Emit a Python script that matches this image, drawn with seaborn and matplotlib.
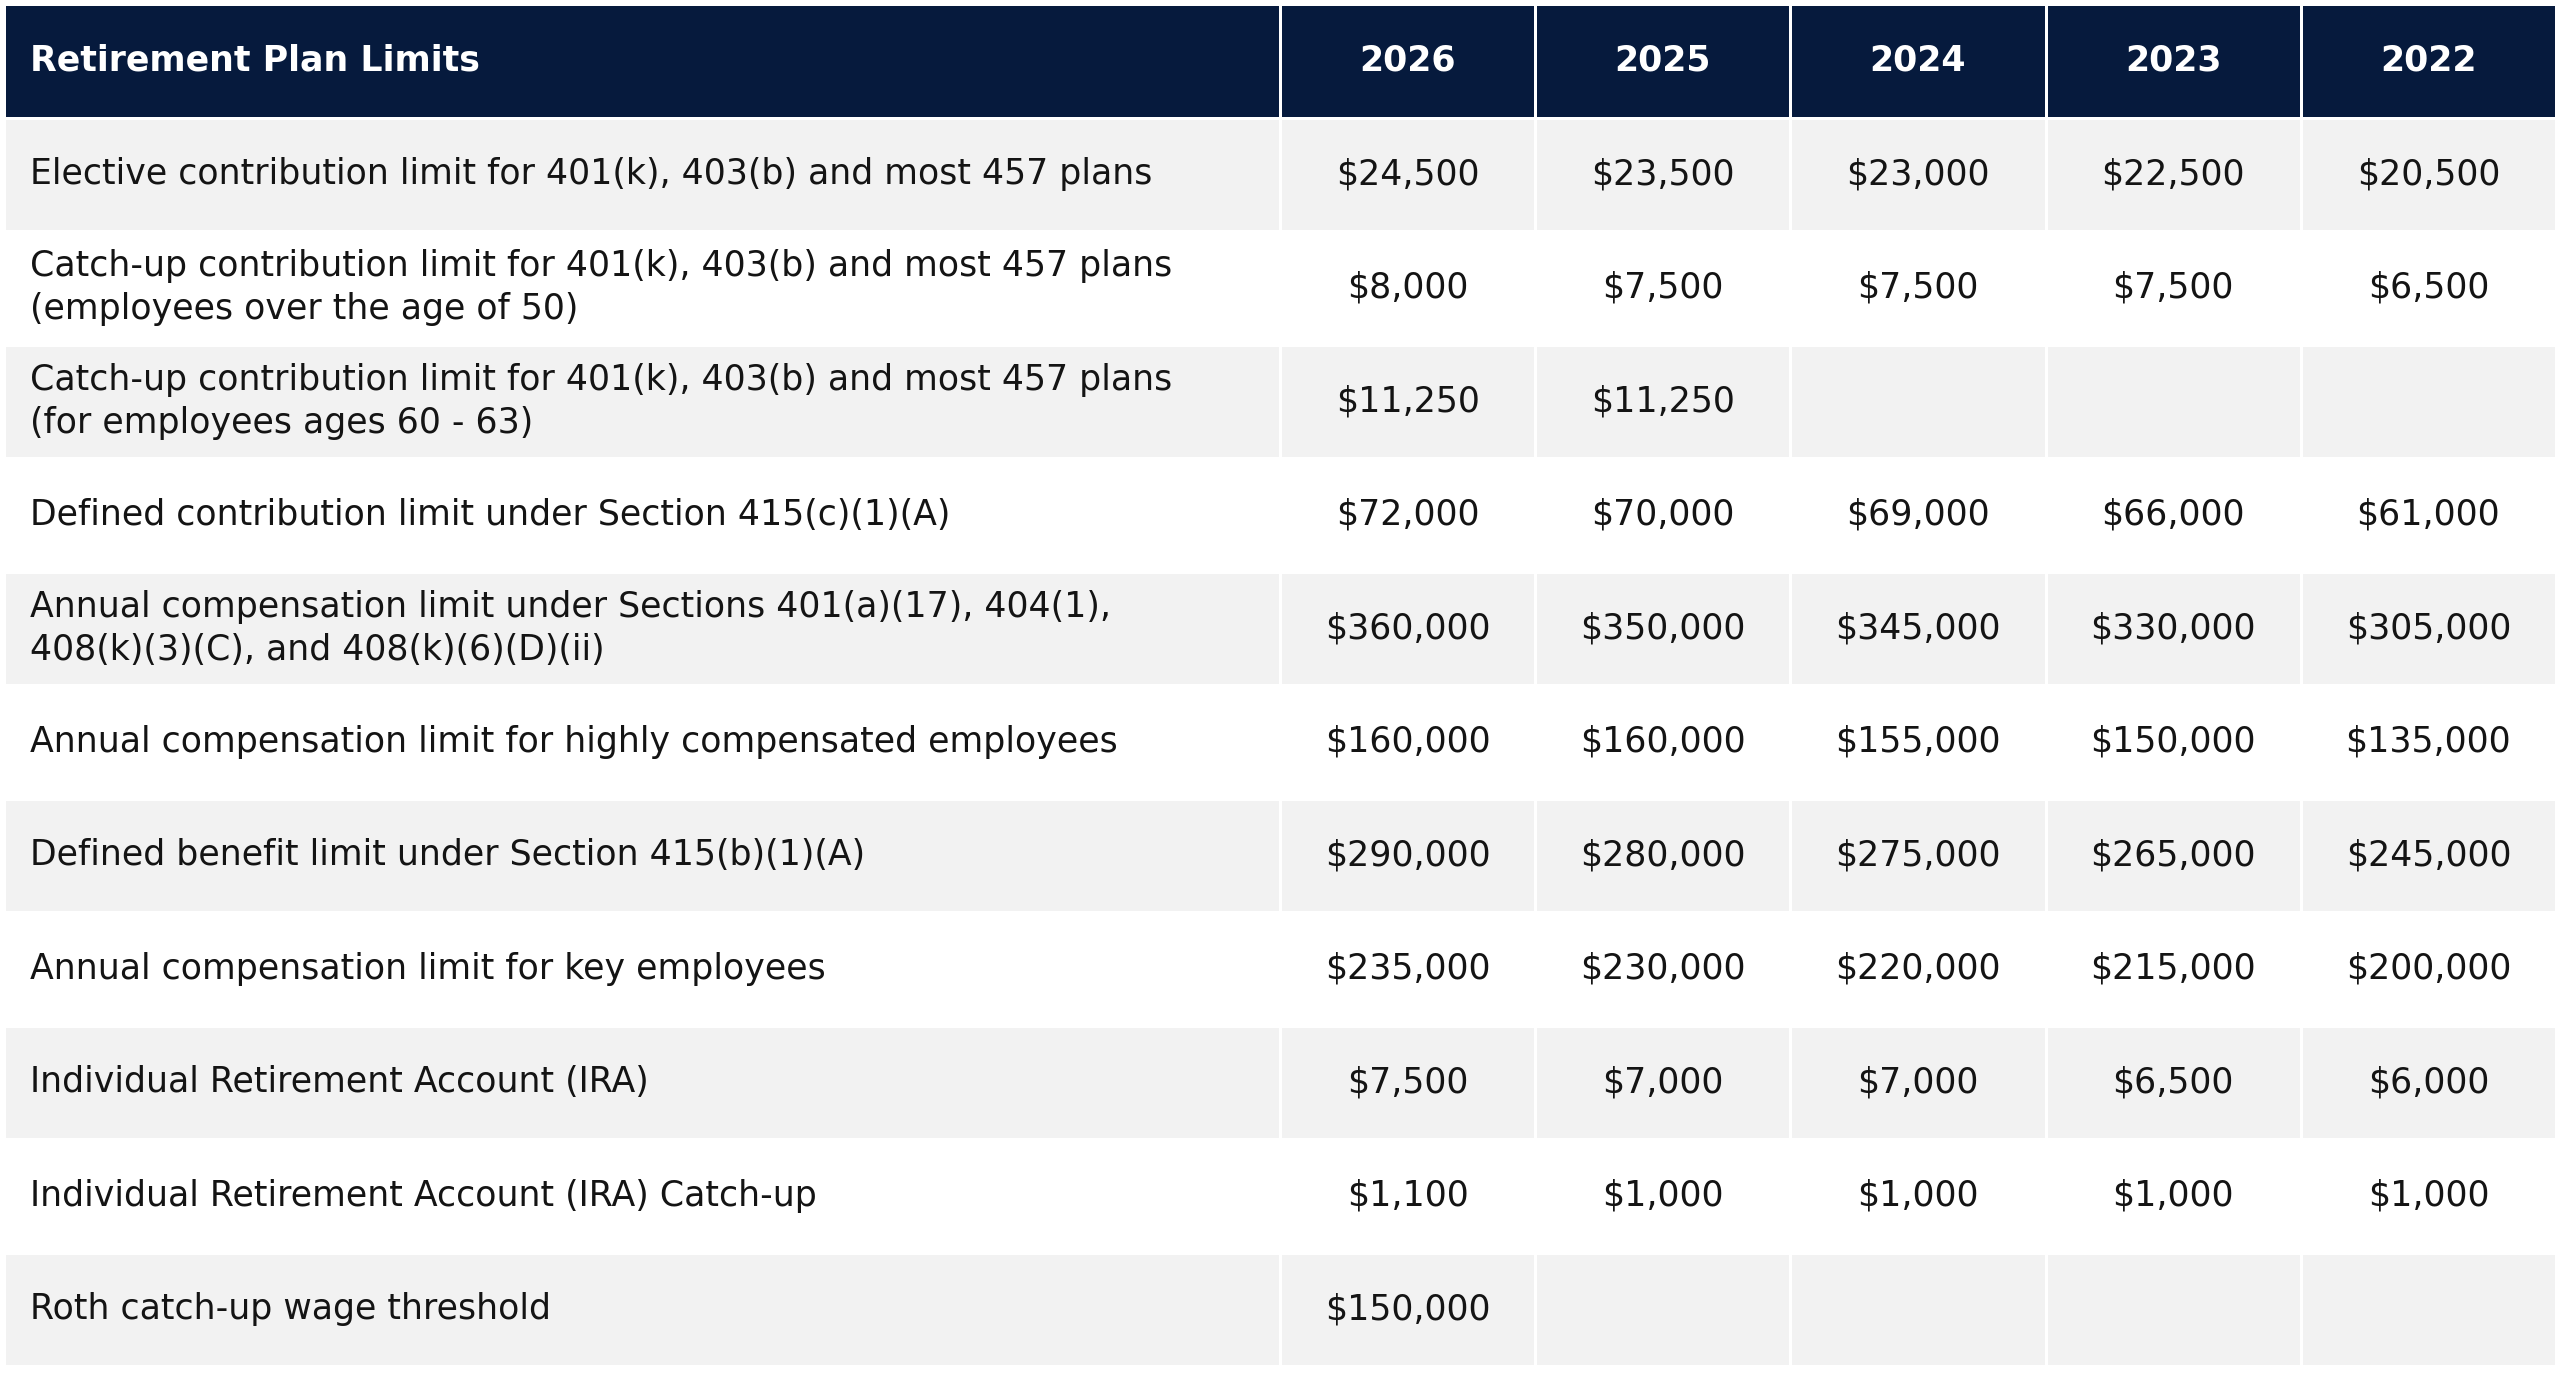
import matplotlib
matplotlib.use("Agg")
import numpy as np
import pandas as pd
import matplotlib.pyplot as plt
import seaborn as sns
from matplotlib.colors import ListedColormap

# -------------------------
# DATA
# -------------------------
title = "Retirement Plan Limits"
years = ["2026", "2025", "2024", "2023", "2022"]
labels = [
    "Elective contribution limit for 401(k), 403(b) and most 457 plans",
    "Catch-up contribution limit for 401(k), 403(b) and most 457 plans\n(employees over the age of 50)",
    "Catch-up contribution limit for 401(k), 403(b) and most 457 plans\n(for employees ages 60 - 63)",
    "Defined contribution limit under Section 415(c)(1)(A)",
    "Annual compensation limit under Sections 401(a)(17), 404(1),\n408(k)(3)(C), and 408(k)(6)(D)(ii)",
    "Annual compensation limit for highly compensated employees",
    "Defined benefit limit under Section 415(b)(1)(A)",
    "Annual compensation limit for key employees",
    "Individual Retirement Account (IRA)",
    "Individual Retirement Account (IRA) Catch-up",
    "Roth catch-up wage threshold",
]
limits_2026 = [24500, 8000, 11250, 72000, 360000, 160000, 290000, 235000, 7500, 1100, 150000]
limits_2025 = [23500, 7500, 11250, 70000, 350000, 160000, 280000, 230000, 7000, 1000, None]
limits_2024 = [23000, 7500, None, 69000, 345000, 155000, 275000, 220000, 7000, 1000, None]
limits_2023 = [22500, 7500, None, 66000, 330000, 150000, 265000, 215000, 6500, 1000, None]
limits_2022 = [20500, 6500, None, 61000, 305000, 135000, 245000, 200000, 6000, 1000, None]

df = pd.DataFrame(
    {"2026": limits_2026, "2025": limits_2025, "2024": limits_2024,
     "2023": limits_2023, "2022": limits_2022},
    index=labels,
)[years]

# -------------------------
# STYLE
# -------------------------
sns.set_theme(style="white")
plt.rcParams["font.family"] = ["DejaVu Sans"]

NAVY = "#061a3d"
GRAY = "#f2f2f2"
TEXT = "#141414"
cmap = ListedColormap(["white", GRAY, NAVY])

# 2 = header, 1 = shaded row, 0 = plain row
shade = np.array([2] + [1 if i % 2 == 0 else 0 for i in range(len(labels))])

fmt_cells = df.apply(lambda col: col.map(lambda v: "" if pd.isna(v) else f"${int(v):,}"))
annot_vals = np.vstack([np.array(years)[None, :], fmt_cells.values])

W, H = 2560, 1373
fig = plt.figure(figsize=(W / 100, H / 100), dpi=100)
left, right, top, bottom = 4 / W, 2556 / W, 1 - 4 / H, 1 - 1366 / H
half = (right - left) / 2
ax_l = fig.add_axes([left, bottom, half, top - bottom])
ax_v = fig.add_axes([left + half, bottom, half, top - bottom])

lw = 3 * 72 / 100
FS = 25

sns.heatmap(shade[:, None], ax=ax_l, cmap=cmap, vmin=0, vmax=2, cbar=False,
            linewidths=lw, linecolor="white", xticklabels=False, yticklabels=False)
sns.heatmap(np.repeat(shade[:, None], len(years), axis=1), ax=ax_v, cmap=cmap,
            vmin=0, vmax=2, cbar=False, linewidths=lw, linecolor="white",
            annot=annot_vals, fmt="", xticklabels=False, yticklabels=False,
            annot_kws={"fontsize": FS})

for t in ax_v.texts:
    if t.get_text() in years:
        t.set_color("white")
        t.set_fontweight("bold")
    else:
        t.set_color(TEXT)

ax_l.text(0.02, 0.5, title, color="white", fontweight="bold", fontsize=FS,
          ha="left", va="center")
for i, lab in enumerate(labels):
    ax_l.text(0.02, i + 1.5, lab, color=TEXT, fontsize=FS, ha="left",
              va="center", linespacing=1.35)

fig.savefig("out.png", dpi=100, facecolor="white")
